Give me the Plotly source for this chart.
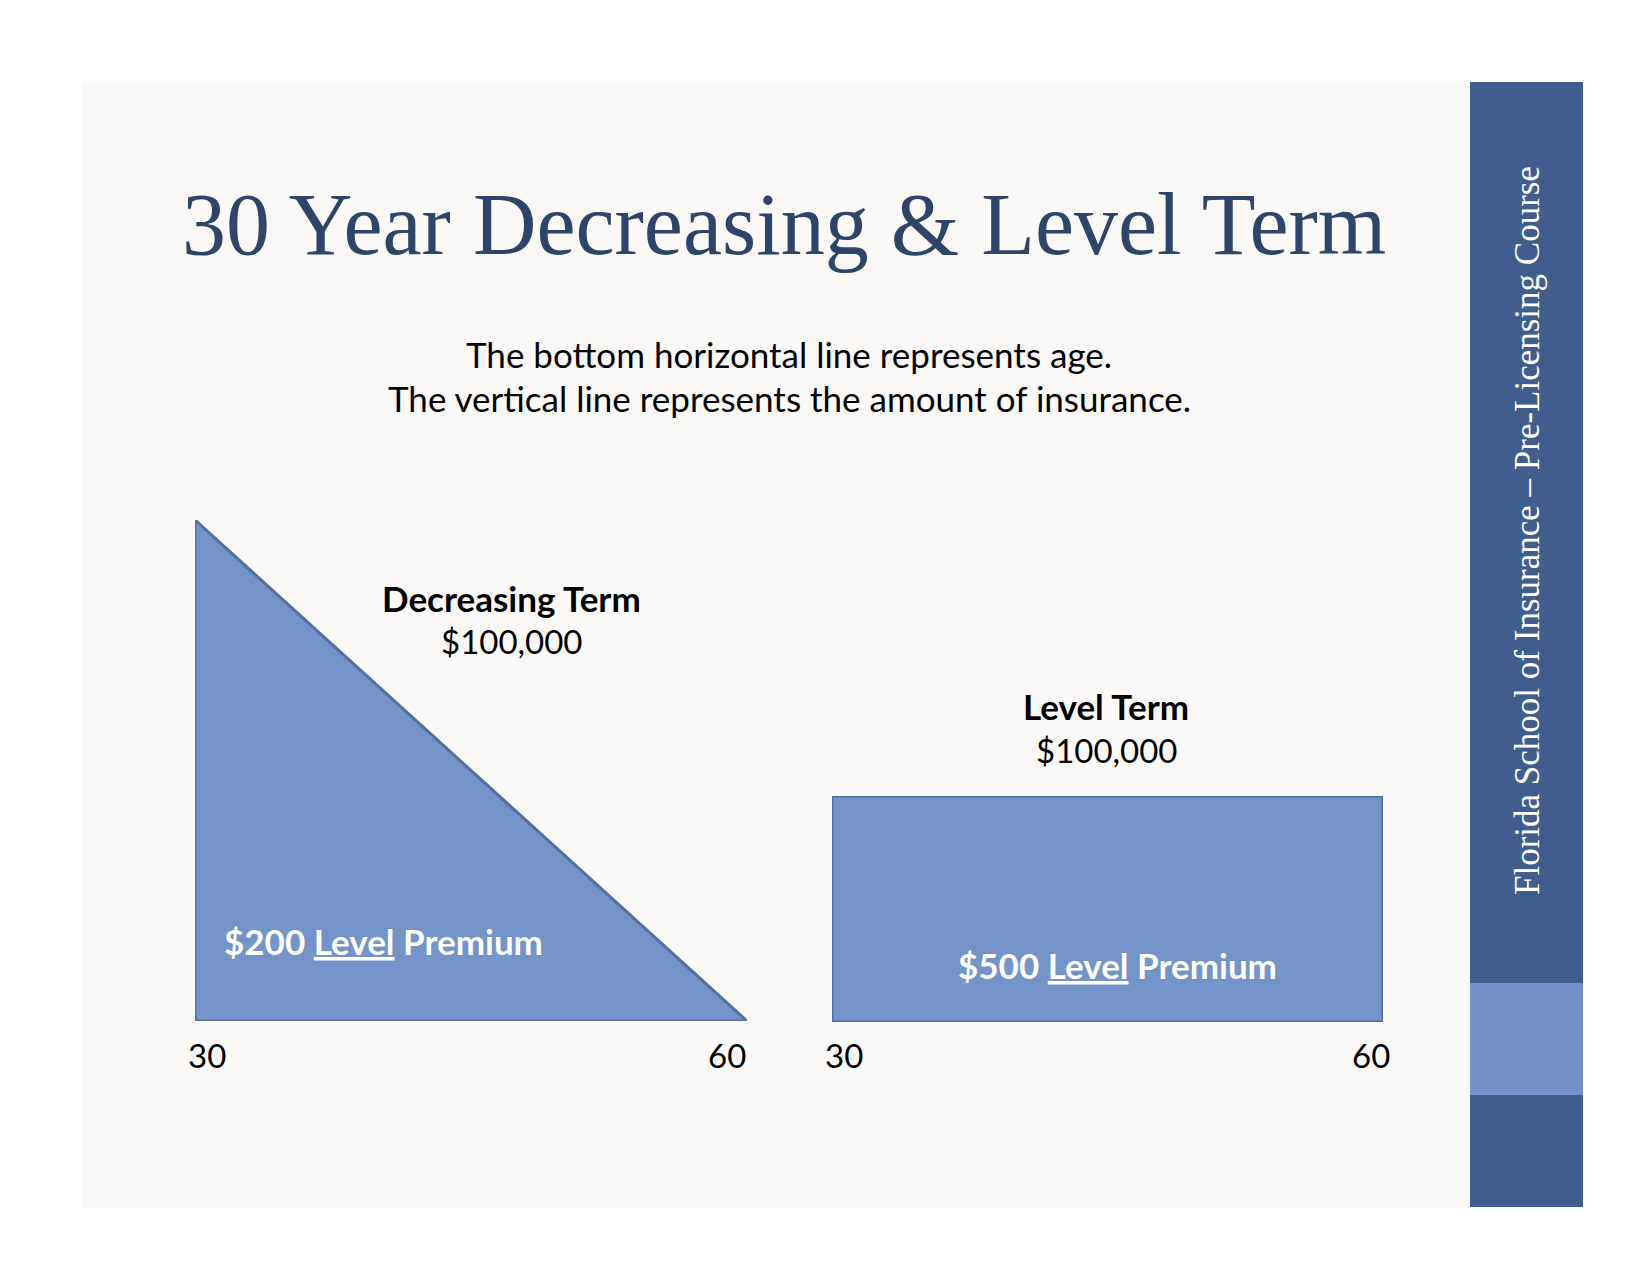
import plotly.graph_objects as go

W, H = 1650, 1275

# ---- data ----
ages = [30, 60]
decreasing_amount = [100000, 0]
level_amount = [100000, 100000]
premiums = [200, 500]
face_amounts = [100000, 100000]
plan_names = ["Decreasing Term", "Level Term"]

title_text = "30 Year Decreasing & Level Term"
subtitle_lines = ["The bottom horizontal line represents age.",
                  "The vertical line represents the amount of insurance."]
sidebar_text = "Florida School of Insurance \u2013 Pre-Licensing Course"

FILL = "#7294C6"
EDGE = "#52709E"
SANS = "Lato, 'Open Sans', sans-serif"
SERIF = "'Liberation Serif', 'DejaVu Serif', serif"


def px_x(p):
    return p / W


def px_y(p):
    return 1 - p / H


fig = go.Figure()

# Decreasing term: triangle
fig.add_trace(go.Scatter(
    x=[ages[0], ages[0], ages[1], ages[0]],
    y=[decreasing_amount[0], 0, decreasing_amount[1], decreasing_amount[0]],
    fill="toself", fillcolor=FILL, mode="lines",
    line=dict(color=EDGE, width=3), xaxis="x", yaxis="y",
    hoverinfo="skip", showlegend=False))

# Level term: rectangle
fig.add_trace(go.Scatter(
    x=[ages[0], ages[0], ages[1], ages[1], ages[0]],
    y=[0, level_amount[0], level_amount[1], 0, 0],
    fill="toself", fillcolor=FILL, mode="lines",
    line=dict(color=EDGE, width=3), xaxis="x2", yaxis="y2",
    hoverinfo="skip", showlegend=False))

ax_common = dict(showgrid=False, zeroline=False, showticklabels=False,
                 showline=False, ticks="", fixedrange=True)

layout = dict(
    width=W, height=H,
    margin=dict(l=0, r=0, t=0, b=0),
    paper_bgcolor="white", plot_bgcolor="rgba(0,0,0,0)",
    xaxis=dict(domain=[px_x(187), px_x(739)], range=[30, 60], **ax_common),
    yaxis=dict(domain=[px_y(1013), px_y(512)], range=[0, 100000], **ax_common),
    xaxis2=dict(domain=[px_x(824), px_x(1375)], range=[30, 60], anchor="y2", **ax_common),
    yaxis2=dict(domain=[px_y(1014), px_y(788)], range=[0, 100000], anchor="x2", **ax_common),
    showlegend=False,
)

shapes = [
    # slide background
    dict(type="rect", xref="paper", yref="paper", layer="below",
         x0=px_x(73), x1=px_x(1463), y0=px_y(1200), y1=px_y(73),
         fillcolor="#FAF9F8", line=dict(width=0)),
    # sidebar
    dict(type="rect", xref="paper", yref="paper", layer="below",
         x0=px_x(1462), x1=px_x(1575), y0=px_y(1199), y1=px_y(74),
         fillcolor="#3F5E8C", line=dict(width=0)),
    dict(type="rect", xref="paper", yref="paper", layer="below",
         x0=px_x(1462), x1=px_x(1575), y0=px_y(1087), y1=px_y(975),
         fillcolor="#7293C5", line=dict(width=0)),
]

ann = []
# title
ann.append(dict(text=title_text, x=px_x(776), y=px_y(217), xref="paper", yref="paper",
                showarrow=False, xanchor="center", yanchor="middle",
                font=dict(family=SERIF, size=88, color="#2F4468")))
# subtitle
for i, line in enumerate(subtitle_lines):
    ann.append(dict(text=line, x=px_x(781), y=px_y(346 + 44 * i), xref="paper", yref="paper",
                    showarrow=False, xanchor="center", yanchor="middle",
                    font=dict(family=SANS, size=35, color="black")))
# sidebar text
ann.append(dict(text=sidebar_text, x=px_x(1519), y=px_y(523), xref="paper", yref="paper",
                showarrow=False, xanchor="center", yanchor="middle", textangle=-90,
                font=dict(family=SERIF, size=35, color="white")))

# plan labels
label_pos = [(503, 590, 633), (1098, 698, 742)]
for (cx, y1, y2), name, amt in zip(label_pos, plan_names, face_amounts):
    ann.append(dict(text=f"<b>{name}</b>", x=px_x(cx), y=px_y(y1), xref="paper", yref="paper",
                    showarrow=False, xanchor="center", yanchor="middle",
                    font=dict(family=SANS, size=35, color="black")))
    ann.append(dict(text=f"${amt:,.0f}", x=px_x(cx), y=px_y(y2), xref="paper", yref="paper",
                    showarrow=False, xanchor="center", yanchor="middle",
                    font=dict(family=SANS, size=33, color="black")))

# premium labels
ann.append(dict(text=f"<b>${premiums[0]} <u>Level</u> Premium</b>", x=px_x(214), y=px_y(933),
                xref="paper", yref="paper", showarrow=False, xanchor="left", yanchor="middle",
                font=dict(family=SANS, size=35, color="white")))
ann.append(dict(text=f"<b>${premiums[1]} <u>Level</u> Premium</b>", x=px_x(1109), y=px_y(957),
                xref="paper", yref="paper", showarrow=False, xanchor="center", yanchor="middle",
                font=dict(family=SANS, size=35, color="white")))

# age labels at axis ends
shifts = {"x": (-9, 1), "x2": (-9, 9)}
for xr in ["x", "x2"]:
    s0, s1 = shifts[xr]
    ann.append(dict(text=str(ages[0]), x=ages[0], xref=xr, y=px_y(1047), yref="paper",
                    showarrow=False, xanchor="left", yanchor="middle", xshift=s0,
                    font=dict(family=SANS, size=33, color="black")))
    ann.append(dict(text=str(ages[1]), x=ages[1], xref=xr, y=px_y(1047), yref="paper",
                    showarrow=False, xanchor="right", yanchor="middle", xshift=s1,
                    font=dict(family=SANS, size=33, color="black")))

layout["shapes"] = shapes
layout["annotations"] = ann
fig.update_layout(**layout)

fig.write_html("out.html")
